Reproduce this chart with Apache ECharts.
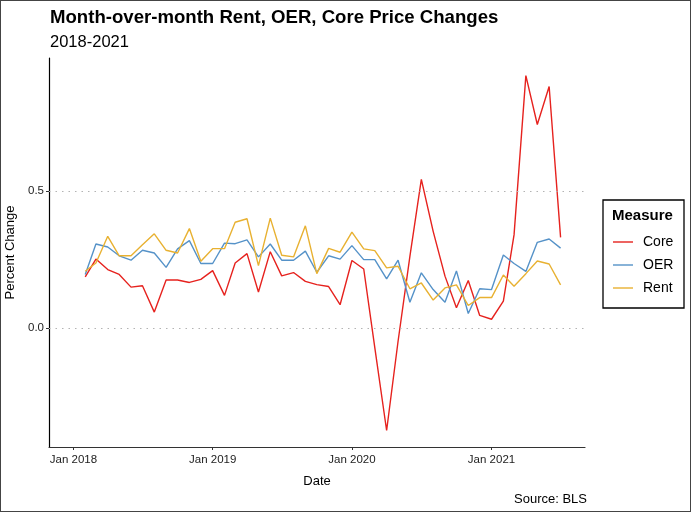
<!DOCTYPE html>
<html>
<head>
<meta charset="utf-8">
<script src="https://cdn.jsdelivr.net/npm/echarts@6/dist/echarts.min.js"></script>
<style>
html,body{margin:0;padding:0;background:#fff;}
#c{width:691px;height:512px;box-sizing:border-box;border:1px solid #444;}
</style>
</head>
<body>
<div id="c"></div>
<script>
var months = ['2018-02','2018-03','2018-04','2018-05','2018-06','2018-07','2018-08','2018-09','2018-10','2018-11','2018-12',
  '2019-01','2019-02','2019-03','2019-04','2019-05','2019-06','2019-07','2019-08','2019-09','2019-10','2019-11','2019-12',
  '2020-01','2020-02','2020-03','2020-04','2020-05','2020-06','2020-07','2020-08','2020-09','2020-10','2020-11','2020-12',
  '2021-01','2021-02','2021-03','2021-04','2021-05','2021-06','2021-07'];
var core = [0.187,0.252,0.214,0.196,0.150,0.155,0.059,0.176,0.176,0.167,0.178,
  0.210,0.120,0.238,0.272,0.132,0.279,0.191,0.203,0.171,0.159,0.152,0.086,
  0.247,0.216,-0.070,-0.372,-0.047,0.262,0.542,0.353,0.190,0.075,0.174,0.047,
  0.033,0.099,0.340,0.920,0.742,0.880,0.331];
var oer = [0.196,0.307,0.296,0.264,0.248,0.284,0.274,0.222,0.289,0.319,0.236,
  0.236,0.310,0.308,0.322,0.260,0.307,0.248,0.248,0.281,0.204,0.264,0.252,
  0.301,0.250,0.250,0.180,0.248,0.095,0.202,0.141,0.095,0.209,0.054,0.144,
  0.141,0.267,0.236,0.207,0.313,0.325,0.292];
var rent = [0.208,0.238,0.335,0.264,0.264,0.304,0.344,0.284,0.274,0.363,0.244,
  0.290,0.290,0.386,0.399,0.228,0.401,0.266,0.260,0.373,0.199,0.291,0.277,
  0.350,0.289,0.283,0.220,0.226,0.144,0.165,0.103,0.147,0.158,0.083,0.112,
  0.112,0.194,0.153,0.199,0.245,0.234,0.158];
var xTickYears = [2018, 2019, 2020, 2021];
var yTicks = [0.0, 0.5];

function ts(m){ var p = m.split('-'); return Date.UTC(+p[0], +p[1]-1, 1); }
function pairs(vals){ return months.map(function(m,i){ return [ts(m), vals[i]]; }); }
var xTickVals = xTickYears.map(function(y){ return Date.UTC(y,0,1); });

var colors = {Core:'#E6221E', OER:'#5592C8', Rent:'#E8B131'};
var font = '"Liberation Sans", Arial, Helvetica, sans-serif';

var chart = echarts.init(document.getElementById('c'), null, {renderer:'canvas'});
function mkSeries(name, vals, withGrid){
  var s = {name:name, type:'line', data:pairs(vals), symbol:'none', showSymbol:false,
    lineStyle:{width:1.4, color:colors[name]}, itemStyle:{color:colors[name]}, z:3, animation:false};
  if (withGrid) {
    s.markLine = {silent:true, symbol:'none', label:{show:false}, animation:false,
      lineStyle:{type:[1.5,5], color:'#b3b3b3', width:1.2},
      data: yTicks.map(function(v){ return {yAxis:v}; })};
  }
  return s;
}
chart.setOption({
  backgroundColor:'#fff',
  animation:false,
  textStyle:{fontFamily:font},
  title:[
    {text:'Month-over-month Rent, OER, Core Price Changes', left:49, top:7, padding:0,
     textStyle:{fontSize:18.6, fontWeight:'bold', color:'#000', fontFamily:font}},
    {text:'2018-2021', left:49, top:33, padding:0,
     textStyle:{fontSize:16.5, fontWeight:'normal', color:'#000', fontFamily:font}}
  ],
  grid:{left:48, right:105, top:57, bottom:64, containLabel:false, outerBoundsMode:'none'},
  xAxis:{type:'value', min:Date.UTC(2017,9,29), max:Date.UTC(2021,8,3),
    name:'Date', nameLocation:'middle', nameGap:28,
    nameTextStyle:{fontSize:13, color:'#000', fontFamily:font},
    axisLine:{show:true, onZero:false, lineStyle:{color:'#333', width:1.2}},
    axisTick:{show:true, customValues:xTickVals, length:3, lineStyle:{color:'#333', width:1}},
    axisLabel:{customValues:xTickVals, fontSize:11.5, color:'#222', margin:7, fontFamily:font,
      formatter:function(v){ return 'Jan ' + new Date(v).getUTCFullYear(); }},
    splitLine:{show:false}},
  yAxis:{type:'value', min:-0.432, max:0.984,
    name:'Percent Change', nameLocation:'middle', nameGap:25, nameRotate:90,
    nameTextStyle:{fontSize:13, color:'#000', fontFamily:font},
    axisLine:{show:true, lineStyle:{color:'#000', width:1.2}},
    axisTick:{show:true, customValues:yTicks, length:3, lineStyle:{color:'#333', width:1}},
    axisLabel:{customValues:yTicks, fontSize:11.5, color:'#222', margin:5, fontFamily:font,
      formatter:function(v){ return v.toFixed(1); }},
    splitLine:{show:false}},
  legend:{orient:'vertical', left:612, top:234, padding:0, itemGap:9, itemWidth:20, itemHeight:14,
    icon:'path://M0,6.3 L20,6.3 L20,7.7 L0,7.7 Z',
    textStyle:{fontSize:14, color:'#000', fontFamily:font, padding:[0,0,0,5]},
    data:['Core','OER','Rent']},
  graphic:[
    {type:'rect', shape:{x:602, y:199, width:81, height:108}, style:{fill:'none', stroke:'#000', lineWidth:1.3}, z:10},
    {type:'text', x:611, y:215, style:{text:'Measure', fill:'#000', font:'bold 15px '+font, verticalAlign:'middle'}, z:10},
    {type:'text', x:586, y:498, style:{text:'Source: BLS', fill:'#000', font:'13px '+font, align:'right', verticalAlign:'middle'}, z:10}
  ],
  series:[mkSeries('Core', core, true), mkSeries('OER', oer, false), mkSeries('Rent', rent, false)]
});
</script>
</body>
</html>
